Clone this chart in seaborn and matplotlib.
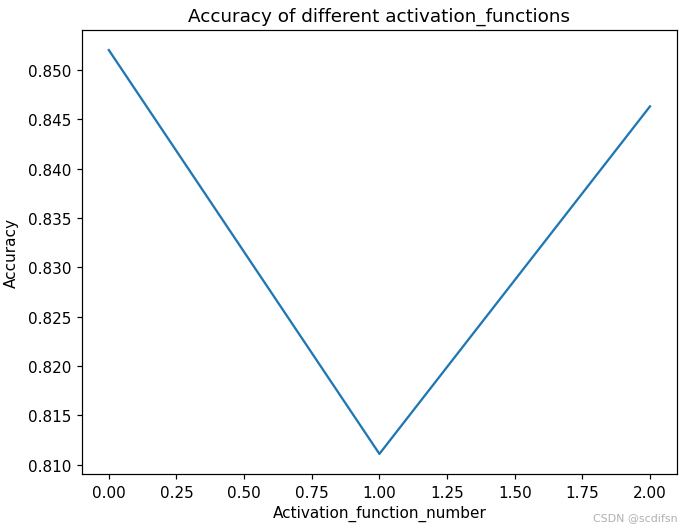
import matplotlib
matplotlib.use("Agg")
import matplotlib.pyplot as plt
import pandas as pd
import seaborn as sns

# data
activation_number = [0, 1, 2]
accuracy = [0.8520, 0.8111, 0.8463]

df = pd.DataFrame({"Activation_function_number": activation_number,
                   "Accuracy": accuracy})

fig = plt.figure(figsize=(6.3, 4.836), dpi=110)
ax = fig.add_axes([0.118, 0.107, 0.859, 0.835])
sns.lineplot(data=df, x="Activation_function_number", y="Accuracy", ax=ax, color="#1f77b4")
ax.set_title("Accuracy of different activation_functions")
ax.set_xlabel("Activation_function_number", labelpad=3)
ax.set_ylabel("Accuracy", labelpad=6)

# watermark
fig.text(0.978, 0.016, "CSDN @scdifsn", ha="right", va="bottom", fontsize=7.2, color="#b0b0b0")

fig.savefig("out.png", dpi=110)
